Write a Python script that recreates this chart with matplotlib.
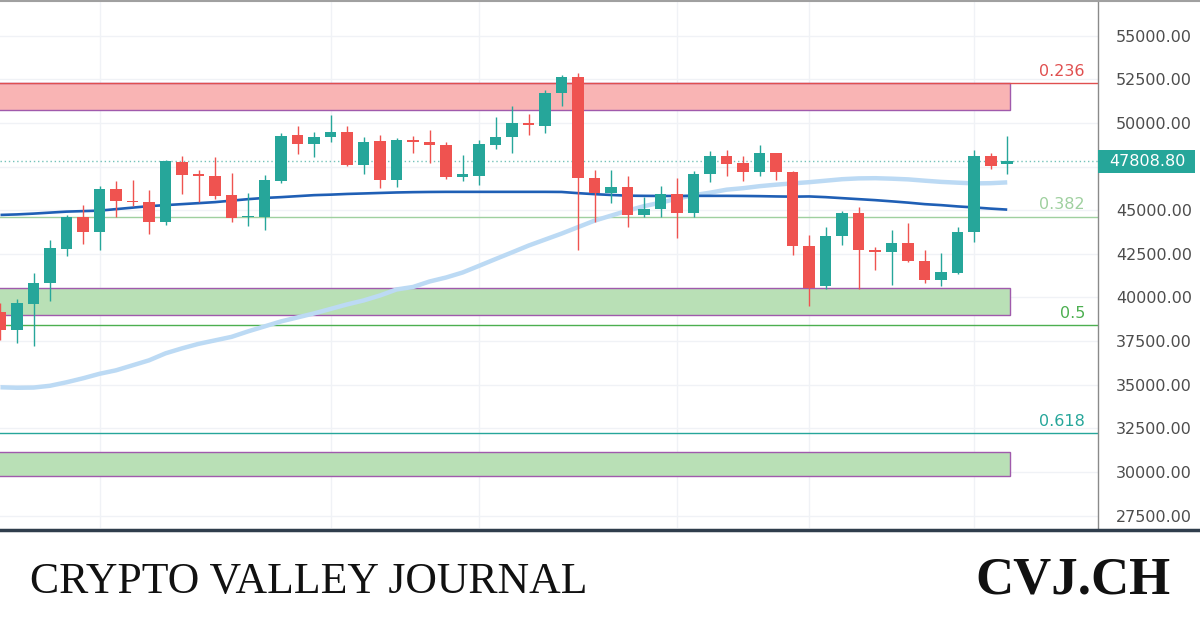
import matplotlib
matplotlib.use("Agg")
import matplotlib.pyplot as plt
from matplotlib.patches import Rectangle
from matplotlib.transforms import blended_transform_factory
import numpy as np

# candle data (daily BTC/USD)
opens = [39142, 38112, 39640, 40818, 42786, 44593, 43735, 46218, 45548, 45491,
         44307, 47779, 47036, 46978, 45874, 44599, 44633, 46692, 49306, 48774,
         49170, 49459, 47608, 48963, 46750, 49020, 48923, 48752, 46882, 46978,
         48734, 49170, 49993, 49838, 51709, 52659, 46824, 45989, 46310, 44748,
         45074, 45932, 44862, 47075, 48082, 47682, 47207, 48254, 47167, 42974,
         40646, 43506, 44845, 42746, 42631, 43106, 42116, 40972, 41413, 43735,
         48082, 47660]
highs = [39657, 39926, 41413, 43318, 44748, 45320, 46406, 46692, 46750, 46160,
         47894, 48082, 47322, 48065, 47133, 45966, 47036, 49398, 49798, 49495,
         50451, 49838, 49170, 49324, 49112, 49266, 49610, 48883, 48180, 49038,
         50353, 50982, 50508, 51881, 52738, 52887, 47322, 47322, 46978, 45777,
         46406, 46824, 47224, 48408, 48448, 48082, 48734, 48300, 47264, 43586,
         44021, 44976, 45165, 42917, 43872, 44273, 42728, 42557, 44021, 48448,
         48277, 49266]
lows = [37540, 37386, 37214, 39788, 42362, 43072, 42728, 44593, 45262, 43644,
        44176, 45932, 45451, 45646, 44307, 44078, 43872, 46538, 48220, 48025,
        48923, 47550, 47075, 46253, 46310, 48254, 47682, 46788, 46652, 46446,
        48505, 48254, 49324, 49421, 50982, 42728, 44307, 45417, 44061, 44633,
        44633, 43392, 44633, 46595, 46938, 46652, 46938, 46750, 42442, 39502,
        40498, 43014, 40498, 41584, 40686, 42019, 40818, 40646, 41316, 43163,
        47362, 47075]
closes = [38112, 39674, 40841, 42820, 44593, 43735, 46218, 45508, 45451, 44307,
          47796, 47018, 46961, 45834, 44559, 44673, 46732, 49266, 48774, 49209,
          49495, 47608, 48906, 46750, 49020, 48883, 48712, 46882, 47075, 48809,
          49209, 49970, 49878, 51743, 52659, 46824, 45989, 46310, 44748, 45091,
          45932, 44862, 47075, 48082, 47648, 47207, 48254, 47167, 42934, 40555,
          43546, 44845, 42746, 42631, 43106, 42076, 40972, 41447, 43775, 48082,
          47550, 47808.8]

# moving averages
ma_dark = [44730, 44759, 44805, 44862, 44919, 44948, 44976, 45062, 45148, 45234,
           45291, 45348, 45405, 45463, 45548, 45634, 45703, 45749, 45806, 45863,
           45892, 45932, 45960, 45989, 46017, 46035, 46046, 46052, 46052, 46052,
           46052, 46052, 46052, 46052, 46046, 45977, 45920, 45874, 45834, 45823,
           45817, 45817, 45823, 45823, 45823, 45817, 45806, 45789, 45777, 45789,
           45749, 45691, 45634, 45577, 45508, 45434, 45348, 45291, 45217, 45159,
           45091, 45034]
ma_light = [34852, 34823, 34835, 34938, 35138, 35367, 35624, 35824, 36110, 36396,
            36797, 37083, 37340, 37540, 37741, 38055, 38341, 38627, 38856, 39085,
            39342, 39600, 39828, 40114, 40458, 40601, 40915, 41144, 41430, 41813,
            42202, 42585, 42974, 43318, 43661, 44033, 44404, 44690, 44976, 45234,
            45434, 45663, 45863, 46006, 46178, 46263, 46378, 46464, 46538, 46607,
            46692, 46778, 46824, 46835, 46807, 46767, 46692, 46624, 46578, 46538,
            46549, 46595]

# fibonacci levels and zones
fib_labels = ["0.236", "0.382", "0.5", "0.618"]
fib_values = [52290, 44634, 38438, 32237]
fib_colors = ["#e04f4f", "#9fd09f", "#4caf50", "#26a69a"]
zones = [(50738, 52290, "#f9b4b4"), (39010, 40555, "#b9e0b6"), (29760, 31116, "#b9e0b6")]

grid_ticks = [27500, 30000, 32500, 35000, 37500, 40000, 42500, 45000, 47500, 50000, 52500, 55000]
# 47500 label is covered by the price tag in the original
y_ticks = [27500, 30000, 32500, 35000, 37500, 40000, 42500, 45000, 50000, 52500, 55000]
vgrid_idx = [6, 20, 29, 41, 49, 59]

teal = "#26a69a"
red = "#ef5350"

W, H = 1200, 630
fig = plt.figure(figsize=(12, 6.3), dpi=100)
fig.patch.set_facecolor("white")
ax = fig.add_axes([0, 102 / H, 1098 / W, 527 / H])
ax.set_facecolor("white")

n = len(opens)
x = np.arange(n)
ax.set_xlim(-0.03, 66.5)
ax.set_ylim(26786, 56991)

# grid
for t in grid_ticks:
    ax.axhline(t, color="#f0f2f6", lw=1, zorder=0)
for v in vgrid_idx:
    ax.axvline(v, color="#f0f2f6", lw=1, zorder=0)

# zones
for lo, hi, col in zones:
    ax.add_patch(Rectangle((-1, lo), n - 1 + 0.15 + 1, hi - lo, facecolor=col,
                           edgecolor="#a05aac", lw=1.0, zorder=1))

# fib lines + labels
for lab, val, col in zip(fib_labels, fib_values, fib_colors):
    ax.axhline(val, color=col, lw=1.0, zorder=1.5)
    ax.annotate(lab, xy=(1085 / 1098, val), xycoords=("axes fraction", "data"),
                xytext=(0, 3), textcoords="offset points", ha="right", va="bottom",
                color=col, fontsize=11.5)

# moving averages
ax.plot(x, ma_light, color="#bcdaf4", lw=3.2, solid_capstyle="butt", zorder=2)
ax.plot(x, ma_dark, color="#1f5fb5", lw=1.9, solid_capstyle="butt", zorder=2.5)

# last price dotted line
last = closes[-1]
ax.axhline(last, color="#74c2b9", lw=1, ls=(0, (1, 2)), zorder=1.6)

# candles
o = np.array(opens, float)
c = np.array(closes, float)
cols = [teal if cc >= oo else red for oo, cc in zip(o, c)]
ax.vlines(x, lows, highs, colors=cols, lw=1.0, zorder=3)
bottoms = np.minimum(o, c)
heights = np.maximum(np.abs(c - o), 90)
ax.bar(x, heights, bottom=bottoms, width=0.7, color=cols, zorder=4, linewidth=0)

# right price axis
ax.yaxis.tick_right()
ax.set_yticks(y_ticks)
ax.set_yticklabels([f"{t:.2f}" for t in y_ticks])
ax.tick_params(axis="y", length=0, pad=13, labelsize=11.5, labelcolor="#4d4d4d")
ax.set_xticks([])
for s in ["left", "bottom", "top"]:
    ax.spines[s].set_visible(False)
ax.spines["right"].set_color("#8a8a8a")
ax.spines["right"].set_linewidth(1)

# last price tag
tr = blended_transform_factory(ax.transAxes, ax.transData)
ax.add_patch(Rectangle((1.0, last - 660), 97 / 1098, 1320, transform=tr,
                       facecolor=teal, edgecolor="none", clip_on=False, zorder=5))
ax.text(1.0 + 49 / 1098, last, f"{last:.2f}", transform=tr, ha="center", va="center",
        color="white", fontsize=11.5, zorder=6, clip_on=False)

# top border and bottom separator
fig.add_artist(plt.Line2D([0, 1], [1 - 1 / H, 1 - 1 / H], color="#a0a0a0", lw=1.5))
fig.add_artist(plt.Line2D([0, 1], [1 - 530 / H, 1 - 530 / H], color="#2f3d4c", lw=2.5))

# banner
fig.text(30 / W, 1 - 582 / H, "CRYPTO VALLEY JOURNAL", ha="left", va="center",
         family="Liberation Serif", fontsize=31.5, color="#111111")
fig.text(1170 / W, 1 - 580 / H, "CVJ.CH", ha="right", va="center",
         family="Liberation Serif", fontweight="bold", fontsize=38, color="#111111")

fig.savefig("out.png", dpi=100, facecolor="white")
